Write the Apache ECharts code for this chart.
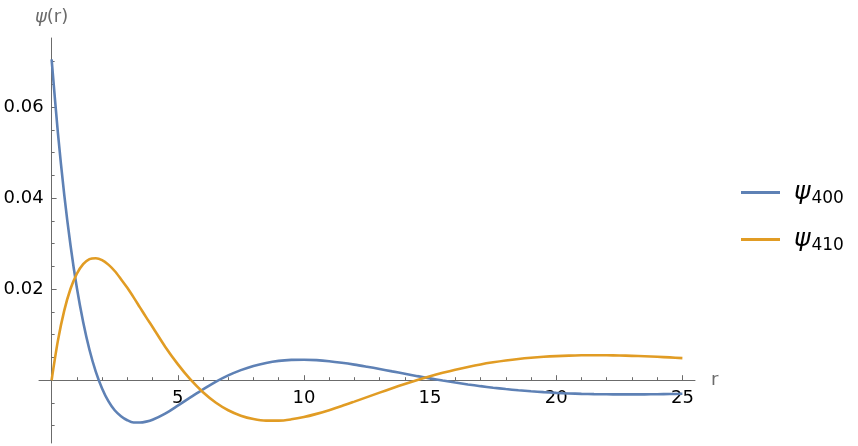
<!DOCTYPE html>
<html>
<head>
    <meta charset="utf-8" />
    <title>psi(r)</title>
    <script src="https://cdn.jsdelivr.net/npm/echarts@6/dist/echarts.min.js"></script>
    <style>
        body { margin: 0; background: #fff; }
        #chart { width: 858px; height: 446px; }
    </style>
</head>
<body>
<div id="chart"></div>
<script type="text/javascript">
  // values
  var rValues = [0, 0.25, 0.5, 0.75, 1, 1.25, 1.5, 1.75, 2, 2.25, 2.5, 2.75, 3, 3.25, 3.5, 3.75, 4,
    4.5, 5, 5.5, 6, 6.5, 7, 7.5, 8, 8.5, 9, 9.5, 10, 10.5, 11, 11.5, 12, 12.5, 13, 13.5, 14, 14.5,
    15, 15.5, 16, 16.5, 17, 17.5, 18, 18.5, 19, 19.5, 20, 20.5, 21, 21.5, 22, 22.5, 23, 23.5, 24, 24.5, 25];
  var psi400 = [0.0705, 0.0543, 0.0408, 0.0296, 0.0203, 0.0128, 0.0067, 0.0019, -0.0018, -0.0046, -0.0066,
    -0.0079, -0.0088, -0.0093, -0.0093, -0.0091, -0.0087,
    -0.00735, -0.00560, -0.00378, -0.00200, -0.00036, 0.00105, 0.00222, 0.00314, 0.00380, 0.00424,
    0.00446, 0.00451, 0.00441, 0.00418, 0.00384, 0.00343, 0.00296, 0.00247, 0.00194, 0.00142, 0.00089,
    0.00040, -0.00008, -0.00052, -0.00093, -0.00131, -0.00165, -0.00195, -0.00221, -0.00244, -0.00263,
    -0.00279, -0.00291, -0.00300, -0.00306, -0.00310, -0.00312, -0.00312, -0.00311, -0.00308, -0.00304,
    -0.00299];
  var psi410 = [0, 0.0087, 0.0153, 0.0201, 0.0234, 0.0255, 0.0266, 0.0268, 0.0264, 0.0254, 0.0240, 0.0222,
    0.0203, 0.0182, 0.0160, 0.0138, 0.0117,
    0.00737, 0.00353, 0.00016, -0.00264, -0.00489, -0.00660, -0.00780, -0.00854, -0.00888, -0.00888,
    -0.00860, -0.00810, -0.00740, -0.00658, -0.00568, -0.00471, -0.00372, -0.00273, -0.00177, -0.00083,
    0.00005, 0.00087, 0.00162, 0.00231, 0.00292, 0.00347, 0.00393, 0.00433, 0.00467, 0.00494, 0.00515,
    0.00530, 0.00540, 0.00547, 0.00549, 0.00548, 0.00543, 0.00535, 0.00526, 0.00514, 0.00501, 0.00486];
  var seriesNames = ['400', '410'];
  var xLabelValues = [5, 10, 15, 20, 25];
  var xMinorTicks = [1, 2, 3, 4, 6, 7, 8, 9, 11, 12, 13, 14, 16, 17, 18, 19, 21, 22, 23, 24];
  var yLabelValues = [0.02, 0.04, 0.06];
  var yMinorTicks = [-0.01, -0.005, 0.005, 0.01, 0.015, 0.025, 0.03, 0.035, 0.045, 0.05, 0.055, 0.065, 0.07];

  var axisColor = '#6b6b6b';
  var font = 'DejaVu Sans';

  function pairs(xs, ys) {
    return xs.map(function (x, i) { return [x, ys[i]]; });
  }

  var xRange = { min: -0.5, max: 25.5 };
  var yRange = { min: -0.0138, max: 0.0752 };
  var gridBox = { left: 39, right: 163, top: 38, bottom: 3 };

  // the axes cross at the origin, so shift them in from the grid edges
  var plotW = 858 - gridBox.left - gridBox.right;
  var plotH = 446 - gridBox.top - gridBox.bottom;
  var yAxisShift = -plotW * (0 - xRange.min) / (xRange.max - xRange.min);
  var xAxisShift = -plotH * (0 - yRange.min) / (yRange.max - yRange.min);

  var option = {
    animation: false,
    grid: {
      left: gridBox.left, right: gridBox.right, top: gridBox.top, bottom: gridBox.bottom,
      outerBoundsMode: 'none'
    },
    xAxis: [
      {
        type: 'value', min: xRange.min, max: xRange.max, position: 'bottom', offset: xAxisShift,
        splitLine: { show: false },
        axisLine: { onZero: false, lineStyle: { color: axisColor, width: 1 } },
        axisTick: { inside: true, length: 5, customValues: xLabelValues, lineStyle: { color: axisColor } },
        axisLabel: { customValues: xLabelValues, color: '#000', fontFamily: font, fontSize: 18, margin: 9 },
        name: 'r', nameLocation: 'end', nameGap: 16,
        nameTextStyle: { color: axisColor, fontFamily: font, fontSize: 18, verticalAlign: 'middle' }
      },
      {
        type: 'value', min: xRange.min, max: xRange.max, position: 'bottom', offset: xAxisShift,
        splitLine: { show: false },
        axisLine: { show: false, onZero: false },
        axisTick: { inside: true, length: 3, customValues: xMinorTicks, lineStyle: { color: axisColor } },
        axisLabel: { show: false }
      }
    ],
    yAxis: [
      {
        type: 'value', min: yRange.min, max: yRange.max, position: 'left', offset: yAxisShift,
        splitLine: { show: false },
        axisLine: { onZero: false, lineStyle: { color: axisColor, width: 1 } },
        axisTick: { inside: true, length: 5, customValues: yLabelValues, lineStyle: { color: axisColor } },
        axisLabel: {
          customValues: yLabelValues, color: '#000', fontFamily: font, fontSize: 18, margin: 8,
          formatter: function (v) { return v.toFixed(2); }
        },
        name: '{i|ψ}(r)', nameLocation: 'end', nameGap: 12,
        nameTextStyle: {
          color: axisColor, fontFamily: font, fontSize: 18, align: 'center',
          rich: { i: { fontFamily: font, fontStyle: 'italic', fontSize: 18, color: axisColor } }
        }
      },
      {
        type: 'value', min: yRange.min, max: yRange.max, position: 'left', offset: yAxisShift,
        splitLine: { show: false },
        axisLine: { show: false, onZero: false },
        axisTick: { inside: true, length: 3, customValues: yMinorTicks, lineStyle: { color: axisColor } },
        axisLabel: { show: false }
      }
    ],
    legend: {
      orient: 'vertical',
      left: 741, top: 180, padding: 0,
      itemWidth: 39, itemHeight: 3, itemGap: 20,
      icon: 'rect',
      data: seriesNames,
      formatter: function (name) { return '{p|ψ}{s|' + name + '}'; },
      textStyle: {
        rich: {
          p: { fontFamily: font, fontStyle: 'italic', fontSize: 25, color: '#000', padding: [0, 0, 0, 9] },
          s: { fontFamily: font, fontSize: 17, color: '#000', padding: [12, 0, 0, 1] }
        }
      }
    },
    series: [
      {
        name: seriesNames[0], type: 'line', smooth: 0.3, showSymbol: false,
        xAxisIndex: 0, yAxisIndex: 0,
        color: '#5E81B5', lineStyle: { width: 2.6 },
        data: pairs(rValues, psi400)
      },
      {
        name: seriesNames[1], type: 'line', smooth: 0.3, showSymbol: false,
        xAxisIndex: 0, yAxisIndex: 0,
        color: '#E19C24', lineStyle: { width: 2.6 },
        data: pairs(rValues, psi410)
      }
    ]
  };

  var myChart = echarts.init(document.getElementById('chart'));
  myChart.setOption(option);
</script>
</body>
</html>
